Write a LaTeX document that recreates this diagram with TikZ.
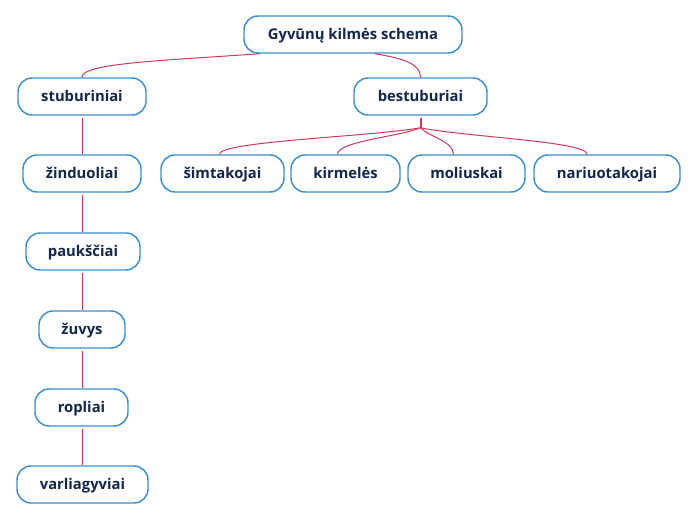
\documentclass[tikz,border=0pt]{standalone}
\usepackage{fontspec}
\setmainfont{Open Sans}
\usetikzlibrary{calc}
\definecolor{boxblue}{HTML}{3A8FD2}
\definecolor{txtnavy}{HTML}{13264C}
\definecolor{linkred}{HTML}{D2375A}
\tikzset{
  box/.style={draw=boxblue, line width=1.1pt, rounded corners=10.5pt, fill=white,
    text=txtnavy, font=\fontsize{11.1pt}{13pt}\selectfont\bfseries,
    text height=8pt, text depth=0pt,
    minimum height=27.75pt, inner sep=0pt, anchor=center},
  link/.style={draw=linkred, line width=0.75pt},
}
\begin{document}
\begin{tikzpicture}[x=0.75pt,y=-0.75pt]
\useasboundingbox (0,0) rectangle (696,520);
% nodes
\node[box, minimum width=163.5pt] (root) at (353,34.5) {Gyvūnų kilmės schema};
\node[box, minimum width=96pt] (stub) at (82,96.5) {stuburiniai};
\node[box, minimum width=99.75pt] (best) at (420.5,96.5) {bestuburiai};
\node[box, minimum width=88.5pt] (zind) at (82,173.5) {žinduoliai};
\node[box, minimum width=92.25pt] (simt) at (222.5,173.5) {šimtakojai};
\node[box, minimum width=81.75pt] (kirm) at (345.5,173.5) {kirmelės};
\node[box, minimum width=87.75pt] (moli) at (466.5,173.5) {moliuskai};
\node[box, minimum width=109.5pt] (nari) at (607,173.5) {nariuotakojai};
\node[box, minimum width=85.5pt] (pauk) at (83,251.5) {paukščiai};
\node[box, minimum width=64.5pt] (zuvy) at (82,329.5) {žuvys};
\node[box, minimum width=69.75pt] (ropl) at (81.5,407.5) {ropliai};
\node[box, minimum width=98.25pt] (varl) at (82.5,484.5) {varliagyviai};
% root links
\draw[link] ($(root.south)+(-93,0)$) .. controls ($(root.south)+(-193,7)$) and ($(stub.north)+(0,-14)$) .. (stub.north);
\draw[link] ($(root.south)+(22,0)$) .. controls ($(root.south)+(52,5)$) and ($(best.north)+(0,-13)$) .. (best.north);
% stem
\coordinate (stem) at ($(best.south)+(0,12)$);
\draw[linkred, line width=1.5pt] ($(best.south)+(0,2)$) -- (stem);
\draw[link] (stem) .. controls ($(stem)+(-50,9)$) and ($(simt.north)+(-3,-13)$) .. ($(simt.north)+(-3,0)$);
\draw[link] (stem) .. controls ($(stem)+(-21,9)$) and ($(kirm.north)+(-8,-13)$) .. ($(kirm.north)+(-8,0)$);
\draw[link] (stem) .. controls ($(stem)+(8,9)$) and ($(moli.north)+(-13,-13)$) .. ($(moli.north)+(-13,0)$);
\draw[link] (stem) .. controls ($(stem)+(42,9)$) and ($(nari.north)+(-20,-13)$) .. ($(nari.north)+(-20,0)$);
% left column
\draw[link, shorten <=2pt] (stub.south) -- (zind.north);
\draw[link, shorten <=2pt] (zind.south) -- (pauk.north -| zind.south);
\draw[link, shorten <=2pt] (pauk.south -| zind.south) -- (zuvy.north -| zind.south);
\draw[link, shorten <=2pt] (zuvy.south -| zind.south) -- (ropl.north -| zind.south);
\draw[link, shorten <=2pt] (ropl.south -| zind.south) -- (varl.north -| zind.south);
\end{tikzpicture}
\end{document}
